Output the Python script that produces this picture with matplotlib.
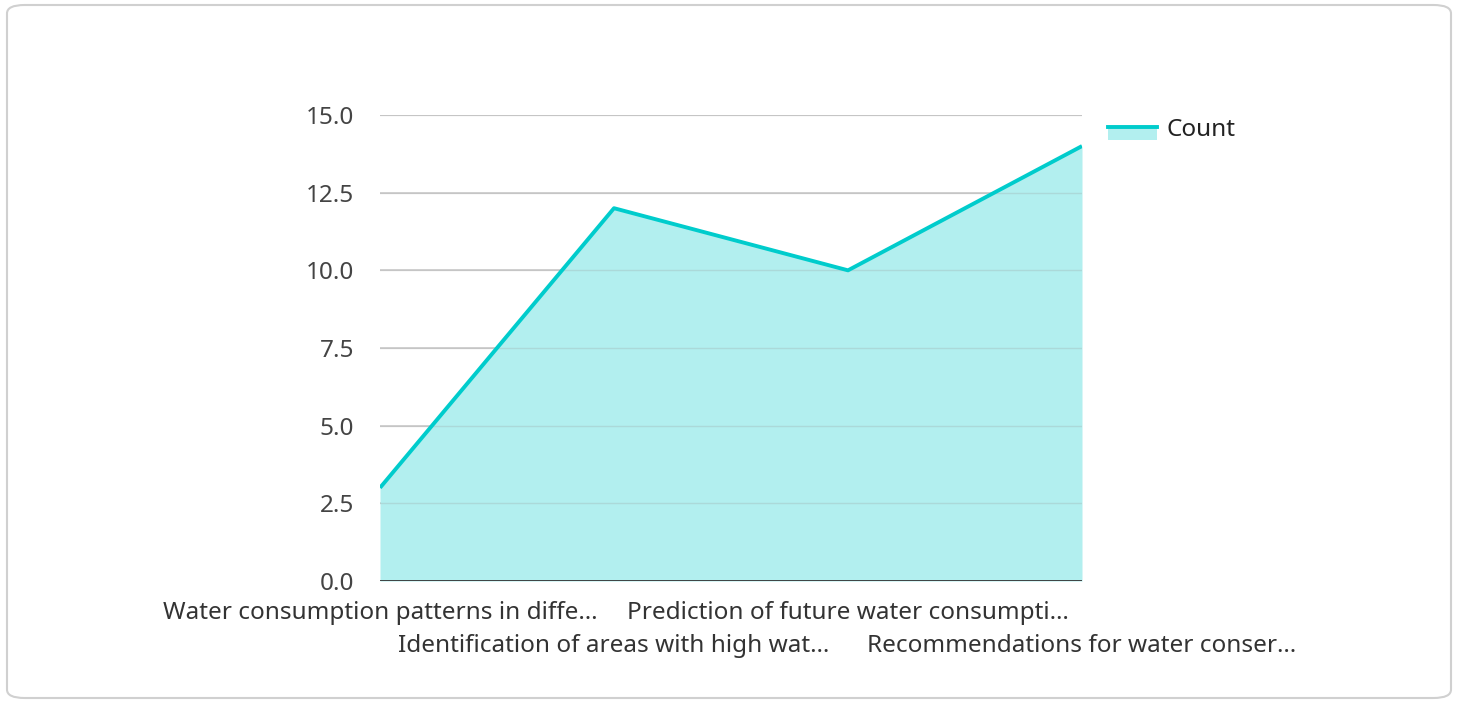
import matplotlib
matplotlib.use("Agg")
import matplotlib.pyplot as plt
from matplotlib.patches import FancyBboxPatch, Rectangle
from matplotlib.lines import Line2D

categories = [
    "Water consumption patterns in diffe…",
    "Identification of areas with high wat…",
    "Prediction of future water consumpti…",
    "Recommendations for water conser…",
]
counts = [3, 12, 10, 14]
yticks = [0.0, 2.5, 5.0, 7.5, 10.0, 12.5, 15.0]
series_name = "Count"

plt.rcParams['font.family'] = ['Noto Sans', 'DejaVu Sans']

W, H = 1458, 702
FS = 17.5
fig = plt.figure(figsize=(W / 100, H / 100), dpi=100)

# card background
card = FancyBboxPatch((7 / W, 4 / H), (1451 - 7) / W, (697 - 4) / H,
                      boxstyle="round,pad=0,rounding_size=0.012",
                      transform=fig.transFigure, facecolor="white",
                      edgecolor="#d0d0d0", linewidth=1.5, zorder=0)
fig.add_artist(card)

left, right, top, bottom = 380, 1082, 115, 581
ax = fig.add_axes([left / W, 1 - bottom / H, (right - left) / W, (bottom - top) / H])
ax.set_facecolor("none")

line_color = "#00cccc"
fill_color = "#b2efef"
x = list(range(len(categories)))
ax.fill_between(x, counts, 0, color=fill_color, linewidth=0, zorder=1)
ax.plot(x, counts, color=line_color, linewidth=2.8, zorder=3, solid_capstyle="butt")

ax.set_xlim(0, len(categories) - 1)
ax.set_ylim(0, 15)
ax.set_yticks(yticks)
ax.set_yticklabels([f"{v:.1f}" for v in yticks])
for v in yticks[1:]:
    ax.axhline(v, color="#cccccc", linewidth=1.2, zorder=0.5)
    ax.axhline(v, color="#999999", linewidth=1.0, alpha=0.25, zorder=2)
ax.axhline(0, color="#333333", linewidth=2, zorder=4)

for s in ax.spines.values():
    s.set_visible(False)
ax.tick_params(axis="y", length=0, pad=18.5, labelsize=FS, labelcolor="#444444")
ax.set_xticks([])

# staggered category labels
for i, c in enumerate(categories):
    yoff = 29 if i % 2 == 0 else 62
    ax.annotate(c, xy=(i, 0), xycoords=("data", "axes fraction"),
                xytext=(0, -yoff * 0.72), textcoords="offset points",
                ha="center", va="center_baseline", fontsize=FS, color="#333333")

# legend
fig.add_artist(Rectangle((1108 / W, 1 - 140 / H), 49 / W, 13 / H,
                         transform=fig.transFigure, facecolor=fill_color,
                         edgecolor="none"))
fig.add_artist(Line2D([1108 / W, 1157 / W], [1 - 127 / H, 1 - 127 / H],
                      transform=fig.transFigure, color=line_color, linewidth=2.8))
fig.text(1167 / W, 1 - 127 / H, series_name, ha="left", va="center_baseline",
         fontsize=FS, color="#222222")

fig.savefig("out.png", dpi=100)
